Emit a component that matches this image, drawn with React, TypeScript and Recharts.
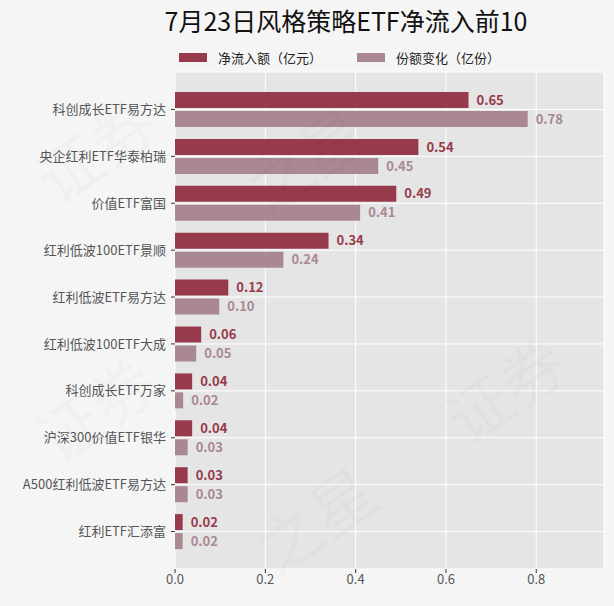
import React from 'react';
import { BarChart, Bar, XAxis, YAxis, CartesianGrid, LabelList } from 'recharts';

const categories = [
  '科创成长ETF易方达',
  '央企红利ETF华泰柏瑞',
  '价值ETF富国',
  '红利低波100ETF景顺',
  '红利低波ETF易方达',
  '红利低波100ETF大成',
  '科创成长ETF万家',
  '沪深300价值ETF银华',
  'A500红利低波ETF易方达',
  '红利ETF汇添富',
];
const netInflow = [0.65, 0.539, 0.49, 0.34, 0.118, 0.058, 0.038, 0.038, 0.028, 0.017];
const shareChange = [0.781, 0.45, 0.41, 0.24, 0.098, 0.047, 0.018, 0.028, 0.028, 0.017];
const xTicks = [0, 0.2, 0.4, 0.6, 0.8];
const seriesNames = ['净流入额（亿元）', '份额变化（亿份）'];
const title = '7月23日风格策略ETF净流入前10';

const data = categories.map((name, i) => ({ name, a: netInflow[i], b: shareChange[i] }));

const RED = '#973a4c';
const PINK = '#a98892';
const FONT = '"Noto Sans CJK SC", "Noto Sans", sans-serif';

const watermarks = [
  { x: 110, y: 430, t: '证券' },
  { x: 330, y: 540, t: '之星' },
  { x: 520, y: 410, t: '证券' },
  { x: 320, y: 180, t: '之星' },
  { x: 110, y: 170, t: '证券' },
];

export default function App() {
  return (
    <div style={{ position: 'absolute', left: 0, top: 0, width: 614, height: 606, background: '#f5f5f5', fontFamily: FONT, overflow: 'hidden' }}>
      <div style={{ position: 'absolute', left: 0, top: 3, width: 692, textAlign: 'center', fontSize: 25, color: '#111', lineHeight: '34px' }}>
        {title}
      </div>
      <div style={{ position: 'absolute', top: 48, left: 179, display: 'flex', alignItems: 'center', fontSize: 13, color: '#222' }}>
        <div style={{ width: 28, height: 9, background: RED }} />
        <div style={{ marginLeft: 11, width: 139 }}>{seriesNames[0]}</div>
        <div style={{ width: 28, height: 9, background: PINK }} />
        <div style={{ marginLeft: 11 }}>{seriesNames[1]}</div>
      </div>
      <BarChart
        width={614}
        height={606}
        data={data}
        layout="vertical"
        margin={{ top: 72, right: 10, bottom: 7, left: 0 }}
        barGap={3}
        barSize={16}
        style={{ position: 'absolute', left: 0, top: 0 }}
      >
        <CartesianGrid fill="#e5e5e5" stroke="#ffffff" strokeWidth={1} />
        <XAxis
          type="number"
          domain={[0, 0.95]}
          ticks={xTicks}
          tickFormatter={(v: number) => v.toFixed(1)}
          axisLine={false}
          tickLine={{ stroke: '#333' }}
          tickSize={4}
          tick={{ fontSize: 13, fill: '#555', fontFamily: FONT }}
          height={30}
          allowDataOverflow
        />
        <YAxis
          type="category"
          dataKey="name"
          width={175}
          axisLine={false}
          tickLine={{ stroke: '#333' }}
          tickSize={4}
          tickMargin={5}
          padding={{ top: 14, bottom: 14 }}
          tick={{ fontSize: 13, fill: '#555', fontFamily: FONT }}
          interval={0}
        />
        <Bar dataKey="a" fill={RED} isAnimationActive={false}>
          <LabelList dataKey="a" position="right" offset={8} formatter={(v: number) => v.toFixed(2)} style={{ fill: RED, fontSize: 13, fontWeight: 'bold', fontFamily: FONT }} />
        </Bar>
        <Bar dataKey="b" fill={PINK} isAnimationActive={false}>
          <LabelList dataKey="b" position="right" offset={8} formatter={(v: number) => v.toFixed(2)} style={{ fill: PINK, fontSize: 13, fontWeight: 'bold', fontFamily: FONT }} />
        </Bar>
      </BarChart>
      <svg width={614} height={606} style={{ position: 'absolute', left: 0, top: 0, pointerEvents: 'none' }}>
        {watermarks.map((w, i) => (
          <text key={i} x={w.x} y={w.y} transform={`rotate(-35 ${w.x} ${w.y})`} fontSize={64} fill="#000" fillOpacity={0.02} textAnchor="middle" fontFamily={FONT}>
            {w.t}
          </text>
        ))}
      </svg>
    </div>
  );
}
